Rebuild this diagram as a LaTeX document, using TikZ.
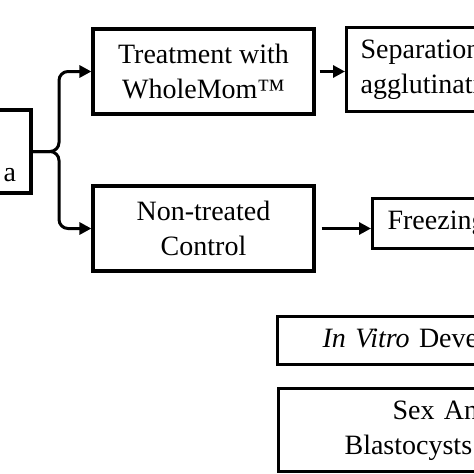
\documentclass[tikz,border=0pt]{standalone}
\usepackage{fontspec}
\setmainfont{Liberation Serif}
\usetikzlibrary{arrows.meta}
\begin{document}
\begin{tikzpicture}[x=1pt,y=-1pt,
  box/.style={draw=black,line width=3.2pt,inner sep=0pt,font=\fontsize{28}{35}\selectfont},
  conn/.style={line width=3pt,-{Triangle[length=12pt,width=12pt]}}]
\useasboundingbox (0,0) rectangle (474,474);
\clip (0,0) rectangle (474,474);
\node[box,minimum width=131pt,minimum height=83pt,text width=101pt,inner xsep=15pt,align=right] (src) at (-34.5,151.5) {\strut\\a};
\node[box,minimum width=221pt,minimum height=85pt,align=center] (treat) at (203.5,71.5) {Treatment with\\WholeMom™};
\node[box,minimum width=221pt,minimum height=85pt,align=center] (ctrl) at (203.5,228.5) {Non-treated\\Control};
\node[box,anchor=north west,minimum height=84pt,text width=220pt,align=left,inner xsep=14pt] (sep) at (345,26) {Separation by\\agglutination};
\node[box,anchor=north west,minimum height=50pt,text width=170pt,align=left,inner xsep=15pt] (frz) at (371,197) {Freezing};
\node[box,anchor=north west,minimum height=48pt,text width=250pt,align=left,inner xsep=45pt] (ivd) at (276,315) {\textit{In Vitro} Development};
\node[box,anchor=north west,minimum height=83pt,text width=230pt,align=left,inner xsep=66pt] (sex) at (277,387) {\hspace*{48pt}Sex Analysis\\Blastocysts};
\draw[conn,rounded corners=9pt] (src.east) -- (59,151.5) -- (59,71.5) -- (treat.west);
\draw[conn,rounded corners=9pt] (src.east) -- (59,151.5) -- (59,228.5) -- (ctrl.west);
\draw[conn,shorten <=4pt] (treat.east) -- (sep.west |- treat.east);
\draw[conn,shorten <=6pt] (ctrl.east) -- (frz.west |- ctrl.east);
\end{tikzpicture}
\end{document}
